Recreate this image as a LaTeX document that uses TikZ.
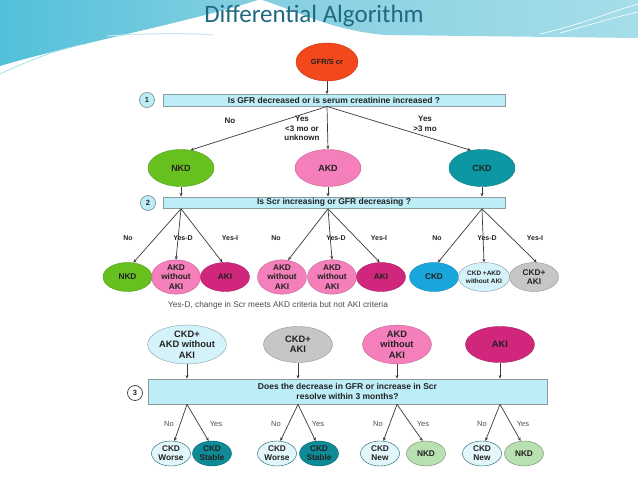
\documentclass[tikz,border=0pt]{standalone}
\usepackage{fontspec}
\setmainfont{Liberation Sans}
\newfontfamily\titlefont{Carlito}
\usetikzlibrary{shapes.geometric,arrows.meta}
\definecolor{blA}{HTML}{52C0DA}
\definecolor{blB}{HTML}{A6DDE9}
\definecolor{blC}{HTML}{86CFE0}
\definecolor{titlec}{HTML}{1E6A82}
\definecolor{gfrc}{HTML}{F2481B}
\definecolor{nkdc}{HTML}{66C01E}
\definecolor{akdc}{HTML}{F47FBA}
\definecolor{ckdc}{HTML}{0B97A3}
\definecolor{akic}{HTML}{D0267C}
\definecolor{ckdb}{HTML}{18A6DC}
\definecolor{lcyan}{HTML}{D4F2FA}
\definecolor{grayc}{HTML}{C6C6C6}
\definecolor{boxf}{HTML}{BDEDF7}
\definecolor{boxd}{HTML}{8A9CA2}
\definecolor{nkdl}{HTML}{B8E0B0}
\definecolor{stab}{HTML}{0D8C98}
\definecolor{pale}{HTML}{E2F6FB}
\definecolor{arrc}{HTML}{3A3A3A}
\definecolor{txtc}{HTML}{222222}
\tikzset{
  ell/.style={ellipse, inner sep=0pt, align=center, text=txtc,
    font=\bfseries\fontsize{8.5}{9.5}\selectfont},
  big/.style={ell, minimum width=66pt, minimum height=37pt, font=\bfseries\fontsize{9}{10}\selectfont},
  mid/.style={ell, minimum width=49pt, minimum height=29pt, font=\bfseries\fontsize{8.3}{9.3}\selectfont},
  row3/.style={ell, minimum width=69pt, minimum height=36pt, font=\bfseries\fontsize{9.3}{10.5}\selectfont},
  small/.style={ell, minimum width=39pt, minimum height=25pt, font=\bfseries\fontsize{8.3}{9}\selectfont},
  qbox/.style={draw=boxd, fill=boxf, line width=0.8pt, inner sep=0pt, align=center,
    text=txtc, font=\bfseries\fontsize{8.5}{9.5}\selectfont},
  stepc/.style={circle, draw=boxd, fill=boxf, line width=0.8pt, minimum size=15pt, inner sep=0pt,
    text=txtc, font=\bfseries\fontsize{7.5}{8}\selectfont},
  arr/.style={-{Stealth[length=3.5pt,width=3pt]}, draw=arrc, line width=0.7pt},
  lab/.style={text=txtc, font=\bfseries\fontsize{8}{9.5}\selectfont, align=center, inner sep=0pt},
  labb/.style={text=txtc, font=\bfseries\fontsize{7}{9}\selectfont, inner sep=0pt},
  lab2/.style={text=black!70, font=\fontsize{7.5}{9}\selectfont, inner sep=0pt}
}
\begin{document}
\begin{tikzpicture}[x=1pt,y=-1pt]
\useasboundingbox (0,0) rectangle (638,478);
\fill[white] (0,0) rectangle (638,478);
% top decoration
\shade[left color=blA, right color=blC] (0,0) -- (0,66) .. controls (70,45) and (190,22) .. (258,0) -- cycle;
\shade[left color=blC, right color=blB] (262,0) .. controls (300,12) and (330,30) .. (385,35) -- (638,38) -- (638,0) -- cycle;
\draw[blC!70, line width=0.8pt] (0,74) .. controls (25,62) and (55,50) .. (85,44);
\draw[blC!50, line width=1pt] (107,36) .. controls (150,33) and (190,33) .. (213,35);
\draw[white, line width=0.6pt] (540,34) .. controls (580,25) and (610,12) .. (638,4);
\draw[white, line width=0.6pt] (560,33) .. controls (590,25) and (615,17) .. (638,12);
\node[text=titlec, font=\titlefont\fontsize{25}{28}\selectfont] (title) at (314,16) {Differential Algorithm};

% level 1
\node[ell, fill=gfrc, draw=gfrc!80!black, minimum width=62pt, minimum height=38pt, font=\bfseries\fontsize{7.5}{8}\selectfont] (gfr) at (327,62) {GFR/S cr};
\node[stepc] (s1) at (147,100) {1};
\node[qbox, minimum width=342pt, minimum height=11.5pt] (b1) at (334,100.3) {Is GFR decreased or is serum creatinine increased ?};
\draw[arr] (gfr) -- (b1.north -| gfr);
\node[big, fill=nkdc, draw=nkdc!80!black] (nkd) at (181,168) {NKD};
\node[big, fill=akdc, draw=akdc!80!black] (akd) at (328,168) {AKD};
\node[big, fill=ckdc, draw=ckdc!80!black] (ckd) at (482,168) {CKD};
\draw[arr] (b1.south -| gfr) -- (nkd.62);
\draw[arr] (b1.south -| gfr) -- (akd.north);
\draw[arr] (b1.south -| gfr) -- (ckd.122);
\node[lab] (l1a) at (230,121) {No};
\node[lab, anchor=north] (l1b) at (302,116) {Yes\\<3 mo or\\unknown};
\node[lab, anchor=north] (l1c) at (425,116) {Yes\\>3 mo};

% level 2
\node[stepc] (s2) at (148,203) {2};
\node[qbox, minimum width=342pt, minimum height=11.5pt] (b2) at (334,202.7) {Is Scr increasing or GFR decreasing ?};
\draw[arr] (nkd) -- (b2.north -| nkd);
\draw[arr] (akd) -- (b2.north -| akd);
\draw[arr] (ckd) -- (b2.north -| ckd);
\node[mid, fill=nkdc, draw=nkdc!80!black] (m1) at (127.5,277) {NKD};
\node[mid, fill=akdc, draw=akdc!80!black] (m2) at (176,277) {AKD\\without\\AKI};
\node[mid, fill=akic, draw=akic!80!black] (m3) at (225,277) {AKI};
\node[mid, fill=akdc, draw=akdc!80!black] (m4) at (282,277) {AKD\\without\\AKI};
\node[mid, fill=akdc, draw=akdc!80!black] (m5) at (332,277) {AKD\\without\\AKI};
\node[mid, fill=akic, draw=akic!80!black] (m6) at (381,277) {AKI};
\node[mid, fill=ckdb, draw=ckdb!80!black] (m7) at (434,277) {CKD};
\node[mid, fill=lcyan, draw=boxd, font=\bfseries\fontsize{6.5}{8}\selectfont] (m8) at (484,277) {CKD +AKD\\without AKI};
\node[mid, fill=grayc, draw=grayc!75!black] (m9) at (534,277) {CKD+\\AKI};
\draw[arr] (b2.south -| nkd) -- (m1.68);
\draw[arr] (b2.south -| nkd) -- (m2.north);
\draw[arr] (b2.south -| nkd) -- (m3.100);
\draw[arr] (b2.south -| akd) -- (m4.70);
\draw[arr] (b2.south -| akd) -- (m5.north);
\draw[arr] (b2.south -| akd) -- (m6.95);
\draw[arr] (b2.south -| ckd) -- (m7.75);
\draw[arr] (b2.south -| ckd) -- (m8.north);
\draw[arr] (b2.south -| ckd) -- (m9.80);
\node[labb] (l2a) at (128,238) {No};
\node[labb] (l2b) at (183,238) {Yes-D};
\node[labb] (l2c) at (230,238) {Yes-I};
\node[labb] (l2d) at (276,238) {No};
\node[labb] (l2e) at (336,238) {Yes-D};
\node[labb] (l2f) at (379,238) {Yes-I};
\node[labb] (l2g) at (437,238) {No};
\node[labb] (l2h) at (487,238) {Yes-D};
\node[labb] (l2i) at (535,238) {Yes-I};
\node[lab2, anchor=west, font=\fontsize{8.3}{9}\selectfont] (foot) at (168,305) {Yes-D, change in Scr meets AKD criteria but not AKI criteria};

% level 3
\node[row3, fill=lcyan, draw=boxd] (r1) at (187,344.5) {CKD+\\AKD without\\AKI};
\node[row3, fill=grayc, draw=grayc!75!black] (r2) at (298,344.5) {CKD+\\AKI};
\node[row3, fill=akdc, draw=akdc!80!black] (r3) at (397,344.5) {AKD\\without\\AKI};
\node[row3, fill=akic, draw=akic!80!black] (r4) at (500,344.5) {AKI};
\node[stepc, fill=white, draw=black!70] (s3) at (135,393) {3};
\node[qbox, minimum width=399pt, minimum height=25pt] (b3) at (347.5,391.5) {Does the decrease in GFR or increase in Scr\\resolve within 3 months?};
\draw[arr] (r1) -- (b3.north -| r1);
\draw[arr] (r2) -- (b3.north -| r2);
\draw[arr] (r3) -- (b3.north -| r3);
\draw[arr] (r4) -- (b3.north -| r4);
\node[small, fill=pale, draw=ckdc!60!black] (n1) at (171,453.5) {CKD\\Worse};
\node[small, fill=stab, draw=stab!70!black] (n2) at (212,453.5) {CKD\\Stable};
\node[small, fill=pale, draw=ckdc!60!black] (n3) at (277,453.5) {CKD\\Worse};
\node[small, fill=stab, draw=stab!70!black] (n4) at (319,453.5) {CKD\\Stable};
\node[small, fill=pale, draw=ckdc!60!black] (n5) at (380,453.5) {CKD\\New};
\node[small, fill=nkdl, draw=nkdl!60!black] (n6) at (426,453.5) {NKD};
\node[small, fill=pale, draw=ckdc!60!black] (n7) at (482,453.5) {CKD\\New};
\node[small, fill=nkdl, draw=nkdl!60!black] (n8) at (524,453.5) {NKD};
\draw[arr] (b3.south -| r1) -- (n1.75);
\draw[arr] (b3.south -| r1) -- (n2.105);
\draw[arr] (b3.south -| r2) -- (n3.75);
\draw[arr] (b3.south -| r2) -- (n4.105);
\draw[arr] (b3.south -| r3) -- (n5.75);
\draw[arr] (b3.south -| r3) -- (n6.105);
\draw[arr] (b3.south -| r4) -- (n7.75);
\draw[arr] (b3.south -| r4) -- (n8.105);
\node[lab2] (y1) at (169,424) {No};
\node[lab2] (y2) at (216,424) {Yes};
\node[lab2] (y3) at (276,424) {No};
\node[lab2] (y4) at (318,424) {Yes};
\node[lab2] (y5) at (378,424) {No};
\node[lab2] (y6) at (423,424) {Yes};
\node[lab2] (y7) at (482,424) {No};
\node[lab2] (y8) at (523,424) {Yes};
\end{tikzpicture}
\end{document}
